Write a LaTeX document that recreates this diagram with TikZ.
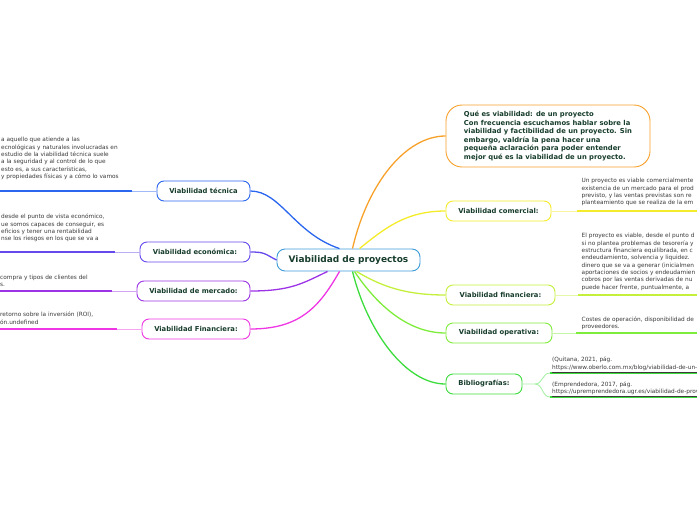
\documentclass[tikz,border=0pt]{standalone}
\usepackage{fontspec}
\setmainfont{DejaVu Sans}
\usepackage{xcolor}
\usepackage{tikz}
\usetikzlibrary{calc}

\definecolor{txtgreen}{HTML}{173D2C}
\definecolor{txtgray}{HTML}{3A3A3A}
\definecolor{cRoot}{HTML}{3D9BD8}
\definecolor{cTec}{HTML}{2B66EE}
\definecolor{cEco}{HTML}{6648EC}
\definecolor{cMer}{HTML}{9C33E6}
\definecolor{cFinIzq}{HTML}{EE36E4}
\definecolor{cQue}{HTML}{F7A12A}
\definecolor{cCom}{HTML}{F4EC2A}
\definecolor{cFin}{HTML}{C4F03C}
\definecolor{cOpe}{HTML}{7EEC3A}
\definecolor{cBib}{HTML}{3CDC3C}

\begin{document}
\begin{tikzpicture}[x=1pt, y=-1pt,
    root/.style={draw=cRoot, line width=0.9pt, rounded corners=8pt, fill=white,
        minimum width=143pt, minimum height=22pt, text=txtgreen,
        font=\bfseries\fontsize{9}{10}\selectfont},
    topic/.style={draw, line width=0.9pt, rounded corners=7pt, fill=white,
        minimum height=20pt, text=txtgreen,
        font=\bfseries\fontsize{6.8}{8}\selectfont},
    note/.style={anchor=north west, inner sep=0pt, align=left, text=txtgray,
        font=\fontsize{5.8}{7.3}\selectfont},
    branch/.style={line width=1.3pt},
    lead/.style={line width=0.9pt},
    bar/.style={line width=2.4pt}]
    \useasboundingbox (0,0) rectangle (697,520);
    \clip (0,0) rectangle (697,520);

    % central topic
    \node[root] (root) at (348.5,260) {Viabilidad de proyectos};

    % left topics
    \node[topic, draw=cTec, minimum width=93pt] (tecnica) at (203.5,191) {Viabilidad técnica};
    \node[topic, draw=cEco, minimum width=110pt] (economica) at (195,252) {Viabilidad económica:};
    \node[topic, draw=cMer, minimum width=113pt] (mercado) at (193.5,291) {Viabilidad de mercado:};
    \node[topic, draw=cFinIzq, minimum width=108pt] (finIzq) at (196,329) {Viabilidad Financiera:};

    % right topics
    \node[topic, draw=cQue, rounded corners=16pt, minimum width=204pt, minimum height=62pt,
        align=left, font=\bfseries\fontsize{6.8}{8.6}\selectfont] (quees) at (548,136)
        {Qué es viabilidad: de un proyecto\\
         Con frecuencia escuchamos hablar sobre la\\
         viabilidad y factibilidad de un proyecto. Sin\\
         embargo, valdría la pena hacer una\\
         pequeña aclaración para poder entender\\
         mejor qué es la viabilidad de un proyecto.};
    \node[topic, draw=cCom, minimum width=105pt] (comercial) at (498.5,211) {Viabilidad comercial:};
    \node[topic, draw=cFin, minimum width=109pt] (financiera) at (500.5,295) {Viabilidad financiera:};
    \node[topic, draw=cOpe, minimum width=106pt] (operativa) at (499,333) {Viabilidad operativa:};
    \node[topic, draw=cBib, minimum width=76pt] (biblio) at (484,384) {Bibliografías:};

    % connectors from the root
    \draw[branch, cTec] ($(root.north)+(-9,0)$) .. controls +(-45,-15) and +(30,0) .. (tecnica.east);
    \draw[branch, cEco] (root.west) .. controls +(-12,-6) and +(15,0) .. (economica.east);
    \draw[branch, cMer] ($(root.south)+(-21,0)$) .. controls +(-25,12) and +(40,0) .. (mercado.east);
    \draw[branch, cFinIzq] ($(root.south)+(-9,0)$) .. controls +(-20,35) and +(50,0) .. (finIzq.east);
    \draw[branch, cQue] ($(root.north)+(4,0)$) .. controls +(15,-65) and +(-40,0) .. (quees.west);
    \draw[branch, cCom] ($(root.north)+(11,0)$) .. controls +(25,-20) and +(-40,0) .. (comercial.west);
    \draw[branch, cFin] ($(root.south)+(8,0)$) .. controls +(25,15) and +(-40,0) .. (financiera.west);
    \draw[branch, cOpe] ($(root.south)+(6,0)$) .. controls +(20,30) and +(-40,0) .. (operativa.west);
    \draw[branch, cBib] ($(root.south)+(4,0)$) .. controls +(15,60) and +(-40,0) .. (biblio.west);

    % branch bars
    \foreach \n/\x/\c in {tecnica/132/cTec, economica/115/cEco, mercado/112/cMer, finIzq/117/cFinIzq} {
        \coordinate (\n-a) at (\x,0 |- \n.west);
        \coordinate (\n-b) at (0,0 |- \n.west);
        \draw[lead, \c!45!white] (\n.west) -- (\n-a);
        \draw[bar, \c] (\n-a) -- (\n-b);
    }
    \foreach \n/\x/\c in {comercial/577/cCom, financiera/578/cFin, operativa/576/cOpe} {
        \coordinate (\n-a) at (\x,0 |- \n.east);
        \coordinate (\n-b) at (697,0 |- \n.east);
        \draw[lead, \c!45!white] (\n.east) -- (\n-a);
        \draw[bar, \c] (\n-a) -- (\n-b);
    }
    \coordinate (bibFork) at (535,0 |- biblio.east);
    \coordinate (bibUp) at (550,373);
    \coordinate (bibDown) at (550,397);
    \coordinate (bibUpEnd) at (697,373);
    \coordinate (bibDownEnd) at (697,397);
    \draw[lead, cBib!45!white] (biblio.east) -- (bibFork) .. controls +(8,0) and +(-8,0) .. (bibUp);
    \draw[lead, cBib!45!white] (bibFork) .. controls +(8,0) and +(-8,0) .. (bibDown);
    \draw[bar, cBib] (bibUp) -- (bibUpEnd);
    \draw[bar, cBib] (bibDown) -- (bibDownEnd);

    % notes
    \node[note] (tecnicaTxt) at (1,137.3) {a aquello que atiende a las\\
        ecnológicas y naturales involucradas en\\
        estudio de la viabilidad técnica suele\\
        a la seguridad y al control de lo que\\
        esto es, a sus características,\\
        y propiedades físicas y a cómo lo vamos};
    \node[note] (economicaTxt) at (1,214) {desde el punto de vista económico,\\
        ue somos capaces de conseguir, es\\
        eficios y tener una rentabilidad\\
        nse los riesgos en los que se va a};
    \node[note] (mercadoTxt) at (0,275) {compra y tipos de clientes del\\ s.};
    \node[note] (finIzqTxt) at (0,312) {retorno sobre la inversión (ROI),\\ ón.undefined};
    \node[note] (comercialTxt) at (581.5,178.3) {Un proyecto es viable comercialmente\\
        existencia de un mercado para el prod\\
        previsto, y las ventas previstas son re\\
        planteamiento que se realiza de la em};
    \node[note] (financieraTxt) at (581.5,233.3) {El proyecto es viable, desde el punto d\\
        si no plantea problemas de tesorería y\\
        estructura financiera equilibrada, en c\\
        endeudamiento, solvencia y liquidez.\\
        dinero que se va a generar (inicialmen\\
        aportaciones de socios y endeudamien\\
        cobros por las ventas derivadas de nu\\
        puede hacer frente, puntualmente, a};
    \node[note] (operativaTxt) at (581.5,316.3) {Costes de operación, disponibilidad de\\ proveedores.};
    \node[note] (bibUpTxt) at (552,357) {(Quitana, 2021, pág.\\
        \underline{https://www.oberlo.com.mx/blog/viabilidad-de-un-p}};
    \node[note] (bibDownTxt) at (552,381.3) {(Emprendedora, 2017, pág.\\
        \underline{https://upremprendedora.ugr.es/viabilidad-de-prove}};
\end{tikzpicture}
\end{document}
